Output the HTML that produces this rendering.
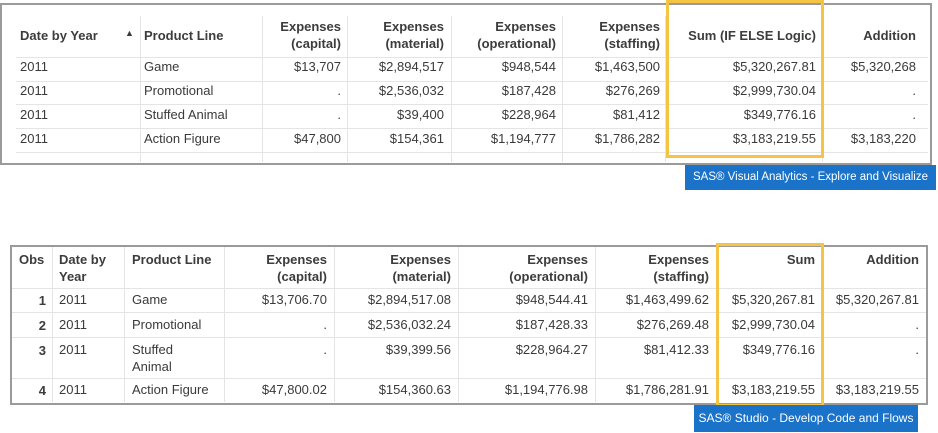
<!DOCTYPE html>
<html><head><style>
body{margin:0;width:938px;height:433px;background:#fff;position:relative;overflow:hidden;font-family:"Liberation Sans",sans-serif;color:#3a3a3a;font-size:13px}
.a{position:absolute;white-space:nowrap}
.r{text-align:right}
.h{font-weight:bold;color:#3c3c3c;line-height:17px}
.vl{position:absolute;width:1px;background:#e4e4e4}
.hl{position:absolute;height:1px;background:#e4e4e4}
</style></head><body>
<!-- top table -->
<div class="a" style="left:0;top:3px;width:928px;height:158px;border:2px solid #9a9a9a"></div>
<div class="hl" style="left:16px;top:57px;width:912px"></div>
<div class="hl" style="left:16px;top:81px;width:912px"></div>
<div class="hl" style="left:16px;top:104px;width:912px"></div>
<div class="hl" style="left:16px;top:128px;width:912px"></div>
<div class="hl" style="left:16px;top:152px;width:912px"></div>
<div class="vl" style="left:140px;top:16px;height:146px"></div>
<div class="vl" style="left:262px;top:16px;height:146px"></div>
<div class="vl" style="left:347px;top:16px;height:146px"></div>
<div class="vl" style="left:451px;top:16px;height:146px"></div>
<div class="vl" style="left:562px;top:16px;height:146px"></div>
<div class="vl" style="left:665px;top:16px;height:146px"></div>
<div class="vl" style="left:822px;top:16px;height:146px"></div>
<div class="a h" style="left:20px;top:27px">Date by Year</div>
<div class="a" style="left:125px;top:28px;font-size:9px">▲</div>
<div class="a h" style="left:144px;top:27px">Product Line</div>
<div class="a h r" style="right:597px;top:18px">Expenses<br>(capital)</div>
<div class="a h r" style="right:494px;top:18px">Expenses<br>(material)</div>
<div class="a h r" style="right:382px;top:18px">Expenses<br>(operational)</div>
<div class="a h r" style="right:278px;top:18px">Expenses<br>(staffing)</div>
<div class="a h r" style="right:122px;top:27px">Sum (IF ELSE Logic)</div>
<div class="a h r" style="right:22px;top:27px">Addition</div>
<div class="a" style="left:20px;top:55px;line-height:24px">2011<br>2011<br>2011<br>2011</div>
<div class="a" style="left:144px;top:55px;line-height:24px">Game<br>Promotional<br>Stuffed Animal<br>Action Figure</div>
<div class="a r" style="right:597px;top:55px;line-height:24px">$13,707<br>.<br>.<br>$47,800</div>
<div class="a r" style="right:494px;top:55px;line-height:24px">$2,894,517<br>$2,536,032<br>$39,400<br>$154,361</div>
<div class="a r" style="right:382px;top:55px;line-height:24px">$948,544<br>$187,428<br>$228,964<br>$1,194,777</div>
<div class="a r" style="right:278px;top:55px;line-height:24px">$1,463,500<br>$276,269<br>$81,412<br>$1,786,282</div>
<div class="a r" style="right:122px;top:55px;line-height:24px">$5,320,267.81<br>$2,999,730.04<br>$349,776.16<br>$3,183,219.55</div>
<div class="a r" style="right:22px;top:55px;line-height:24px">$5,320,268<br>.<br>.<br>$3,183,220</div>
<div class="a" style="left:666px;top:0;width:152px;height:152px;border:3px solid #f6c443"></div>
<div class="a" style="left:685px;top:165px;width:251px;height:25px;background:#1a73c8;color:#fff;font-size:11.5px;line-height:25px;text-align:center">SAS® Visual Analytics - Explore and Visualize</div>
<!-- bottom table -->
<div class="a" style="left:10px;top:245px;width:914px;height:156px;border:2px solid #9a9a9a"></div>
<div class="hl" style="left:12px;top:288px;width:914px"></div>
<div class="hl" style="left:12px;top:312px;width:914px"></div>
<div class="hl" style="left:12px;top:337px;width:914px"></div>
<div class="hl" style="left:12px;top:378px;width:914px"></div>
<div class="vl" style="left:52px;top:247px;height:155px"></div>
<div class="vl" style="left:124px;top:247px;height:155px"></div>
<div class="vl" style="left:224px;top:247px;height:155px"></div>
<div class="vl" style="left:334px;top:247px;height:155px"></div>
<div class="vl" style="left:458px;top:247px;height:155px"></div>
<div class="vl" style="left:595px;top:247px;height:155px"></div>
<div class="vl" style="left:822px;top:247px;height:155px"></div>
<div class="a h" style="left:19px;top:251px">Obs</div>
<div class="a h" style="left:59px;top:251px">Date by<br>Year</div>
<div class="a h" style="left:132px;top:251px">Product Line</div>
<div class="a h r" style="right:611px;top:251px">Expenses<br>(capital)</div>
<div class="a h r" style="right:487px;top:251px">Expenses<br>(material)</div>
<div class="a h r" style="right:350px;top:251px">Expenses<br>(operational)</div>
<div class="a h r" style="right:229px;top:251px">Expenses<br>(staffing)</div>
<div class="a h r" style="right:123px;top:251px">Sum</div>
<div class="a h r" style="right:19px;top:251px">Addition</div>
<div class="a h r" style="right:892px;top:292px">1</div>
<div class="a h r" style="right:892px;top:317px">2</div>
<div class="a h r" style="right:892px;top:342px">3</div>
<div class="a h r" style="right:892px;top:382px">4</div>
<div class="a" style="left:59px;top:292px">2011</div><div class="a" style="left:59px;top:317px">2011</div><div class="a" style="left:59px;top:342px">2011</div><div class="a" style="left:59px;top:382px">2011</div>
<div class="a" style="left:132px;top:292px">Game</div><div class="a" style="left:132px;top:317px">Promotional</div><div class="a" style="left:132px;top:341px;line-height:17px">Stuffed<br>Animal</div><div class="a" style="left:132px;top:382px">Action Figure</div>
<div class="a r" style="right:611px;top:292px">$13,706.70</div><div class="a r" style="right:611px;top:317px">.</div><div class="a r" style="right:611px;top:342px">.</div><div class="a r" style="right:611px;top:382px">$47,800.02</div>
<div class="a r" style="right:487px;top:292px">$2,894,517.08</div><div class="a r" style="right:487px;top:317px">$2,536,032.24</div><div class="a r" style="right:487px;top:342px">$39,399.56</div><div class="a r" style="right:487px;top:382px">$154,360.63</div>
<div class="a r" style="right:350px;top:292px">$948,544.41</div><div class="a r" style="right:350px;top:317px">$187,428.33</div><div class="a r" style="right:350px;top:342px">$228,964.27</div><div class="a r" style="right:350px;top:382px">$1,194,776.98</div>
<div class="a r" style="right:229px;top:292px">$1,463,499.62</div><div class="a r" style="right:229px;top:317px">$276,269.48</div><div class="a r" style="right:229px;top:342px">$81,412.33</div><div class="a r" style="right:229px;top:382px">$1,786,281.91</div>
<div class="a r" style="right:123px;top:292px">$5,320,267.81</div><div class="a r" style="right:123px;top:317px">$2,999,730.04</div><div class="a r" style="right:123px;top:342px">$349,776.16</div><div class="a r" style="right:123px;top:382px">$3,183,219.55</div>
<div class="a r" style="right:19px;top:292px">$5,320,267.81</div><div class="a r" style="right:19px;top:317px">.</div><div class="a r" style="right:19px;top:342px">.</div><div class="a r" style="right:19px;top:382px">$3,183,219.55</div>
<div class="a" style="left:716px;top:243px;width:102px;height:158px;border:3px solid #f6c443"></div>
<div class="a" style="left:694px;top:405px;width:224px;height:27px;background:#1a73c8;color:#fff;font-size:12px;line-height:27px;text-align:center">SAS® Studio - Develop Code and Flows</div>
</body></html>
